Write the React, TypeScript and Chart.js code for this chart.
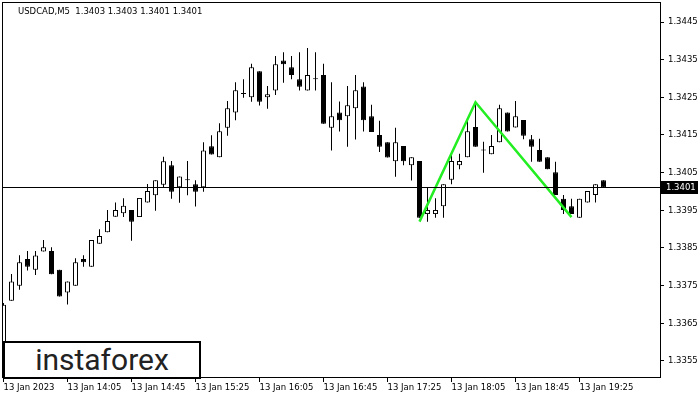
import React, { useEffect, useRef } from "react";
import { Chart, registerables } from "chart.js";

Chart.register(...registerables);

const chartTitle = "USDCAD,M5  1.3403 1.3403 1.3401 1.3401";
const logoText = "instaforex";

// M5 candles from 13:25 to 19:40, one entry per bar
const opens = [
  1.33513, 1.3371, 1.3375, 1.33821, 1.33792, 1.33841, 1.33842, 1.33792, 1.33732, 1.3375,
  1.33821, 1.338, 1.33861, 1.33892, 1.33933, 1.33942, 1.33951, 1.33932, 1.33971, 1.3399,
  1.34018, 1.3407, 1.34011, 1.3403, 1.34019, 1.34011, 1.3412, 1.34091, 1.34169, 1.3421,
  1.34259, 1.3425, 1.34319, 1.3425, 1.34268, 1.34348, 1.3433, 1.34298, 1.34268, 1.34298,
  1.34309, 1.34169, 1.3421, 1.342, 1.34221, 1.34279, 1.342, 1.3415, 1.34131, 1.3408,
  1.34121, 1.3407, 1.34081, 1.3394, 1.3394, 1.33961, 1.34031, 1.3407, 1.34091, 1.34171,
  1.34109, 1.34099, 1.34131, 1.3421, 1.3417, 1.3419, 1.34139, 1.3411, 1.34091, 1.34051,
  1.33981, 1.33961, 1.3393, 1.33971, 1.33991, 1.3403,
];
const highs = [
  1.33704, 1.33781, 1.33831, 1.33842, 1.33842, 1.33871, 1.33852, 1.33792, 1.33761, 1.33823,
  1.33831, 1.33871, 1.339, 1.33951, 1.33971, 1.33982, 1.33951, 1.33983, 1.3402, 1.3403,
  1.34092, 1.34081, 1.3404, 1.34081, 1.3403, 1.34131, 1.34149, 1.34181, 1.3424, 1.3429,
  1.34298, 1.34339, 1.34319, 1.3428, 1.3436, 1.3437, 1.3436, 1.3437, 1.34381, 1.3437,
  1.34339, 1.3429, 1.34239, 1.3428, 1.34309, 1.3429, 1.3423, 1.34188, 1.34131, 1.34169,
  1.34121, 1.34091, 1.34081, 1.34011, 1.33982, 1.34019, 1.341, 1.341, 1.3419, 1.34234,
  1.34132, 1.3415, 1.3423, 1.3421, 1.3424, 1.3419, 1.3415, 1.3414, 1.34091, 1.34079,
  1.33991, 1.33981, 1.33981, 1.34001, 1.34019, 1.3403,
];
const lows = [
  1.33513, 1.3371, 1.33739, 1.3379, 1.33778, 1.33841, 1.3378, 1.33721, 1.337, 1.3375,
  1.338, 1.338, 1.33861, 1.33892, 1.33933, 1.33932, 1.33869, 1.33932, 1.33971, 1.33949,
  1.34011, 1.33981, 1.3397, 1.3399, 1.3396, 1.33999, 1.34098, 1.34091, 1.34148, 1.34189,
  1.34249, 1.34238, 1.34228, 1.3422, 1.34256, 1.34289, 1.34298, 1.34268, 1.34268, 1.34268,
  1.3418, 1.34109, 1.34159, 1.34119, 1.34138, 1.34159, 1.34158, 1.34105, 1.3409, 1.34039,
  1.3407, 1.34029, 1.3393, 1.3392, 1.3393, 1.3393, 1.34019, 1.34059, 1.34091, 1.34119,
  1.3405, 1.34099, 1.34131, 1.34159, 1.3417, 1.34139, 1.34079, 1.34079, 1.34059, 1.33991,
  1.3394, 1.3394, 1.3393, 1.33971, 1.33971, 1.3401,
];
const closes = [
  1.33699, 1.33761, 1.33812, 1.338, 1.3383, 1.33852, 1.3378, 1.33721, 1.33761, 1.33812,
  1.33812, 1.33871, 1.33882, 1.33922, 1.33951, 1.33962, 1.3392, 1.33983, 1.34001, 1.3403,
  1.3408, 1.33999, 1.3404, 1.3403, 1.33999, 1.34109, 1.34098, 1.3416, 1.34221, 1.34269,
  1.34259, 1.3433, 1.34238, 1.34258, 1.34338, 1.34338, 1.34309, 1.34278, 1.34309, 1.34298,
  1.3418, 1.342, 1.34189, 1.34229, 1.34269, 1.34189, 1.34158, 1.34119, 1.3409, 1.34131,
  1.3408, 1.34091, 1.3393, 1.33951, 1.33951, 1.34019, 1.34081, 1.34081, 1.3416, 1.34119,
  1.34109, 1.34121, 1.34221, 1.34159, 1.342, 1.34148, 1.34119, 1.34079, 1.34059, 1.33991,
  1.33951, 1.3394, 1.33981, 1.34001, 1.34019, 1.3401,
];

const xTickIndex = [0, 8, 16, 24, 32, 40, 48, 56, 64, 72];
const xTickLabels = [
  "13 Jan 2023", "13 Jan 14:05", "13 Jan 14:45", "13 Jan 15:25", "13 Jan 16:05",
  "13 Jan 16:45", "13 Jan 17:25", "13 Jan 18:05", "13 Jan 18:45", "13 Jan 19:25",
];
const yTickValues = [1.3355, 1.3365, 1.3375, 1.3385, 1.3395, 1.3405, 1.3415, 1.3425, 1.3435, 1.3445];
const currentPrice = 1.3401;

// double-top style pattern drawn in green (bar index, price)
const patternIndex = [52, 59, 71];
const patternPrice = [1.3392, 1.34237, 1.33932];

const X_MIN = -0.1875;
const X_MAX = 82.0625;
const Y_MIN = 1.335075;
const Y_MAX = 1.345031;

const FONT = "DejaVu Sans";

export default function App() {
  const ref = useRef<HTMLCanvasElement>(null);

  useEffect(() => {
    document.body.style.margin = "0";
    const canvas = ref.current;
    if (!canvas) return;

    const idx = opens.map((_, i) => i);
    const bodies = idx.map((i) => ({
      x: i,
      y: [Math.min(opens[i], closes[i]), Math.max(opens[i], closes[i])],
    }));
    const wicks = idx.map((i) => ({ x: i, y: [lows[i], highs[i]] }));
    const bodyColors = idx.map((i) => (closes[i] >= opens[i] ? "#ffffff" : "#000000"));
    const pattern = patternIndex.map((x, k) => ({ x, y: patternPrice[k] }));

    const mtPlugin = {
      id: "mtDecor",
      afterDatasetsDraw(chart: any) {
        const { ctx, chartArea: a, scales } = chart;
        const y = scales.y.getPixelForValue(currentPrice);
        ctx.save();
        ctx.beginPath();
        ctx.rect(a.left, a.top, a.right - a.left, a.bottom - a.top);
        ctx.clip();
        ctx.strokeStyle = "#000";
        ctx.lineWidth = 1;
        ctx.beginPath();
        ctx.moveTo(a.left, Math.floor(y) + 0.5);
        ctx.lineTo(a.right, Math.floor(y) + 0.5);
        ctx.stroke();
        ctx.restore();
      },
      afterDraw(chart: any) {
        const { ctx, chartArea: a, scales } = chart;
        ctx.save();
        ctx.strokeStyle = "#000";
        ctx.lineWidth = 1;
        ctx.strokeRect(a.left + 0.5, a.top + 0.5, a.right - a.left, a.bottom - a.top);
        const y = Math.floor(scales.y.getPixelForValue(currentPrice));
        ctx.fillStyle = "#000";
        ctx.fillRect(a.right + 1, y - 6, 37, 13);
        ctx.fillStyle = "#fff";
        ctx.font = `8.5px '${FONT}'`;
        ctx.textAlign = "left";
        ctx.textBaseline = "middle";
        ctx.fillText(currentPrice.toFixed(4), a.right + 6, y + 1);
        ctx.restore();
      },
    };

    const chart = new Chart(canvas, {
      type: "bar",
      data: {
        datasets: [
          {
            type: "line",
            data: pattern,
            borderColor: "#22ee22",
            borderWidth: 2.5,
            pointRadius: 0,
            tension: 0,
            order: 1,
          } as any,
          {
            type: "bar",
            data: bodies as any,
            backgroundColor: bodyColors,
            borderColor: "#000000",
            borderWidth: 1,
            borderSkipped: false,
            barThickness: 5,
            minBarLength: 1,
            grouped: false,
            inflateAmount: 0,
            order: 2,
          } as any,
          {
            type: "bar",
            data: wicks as any,
            backgroundColor: "#000000",
            borderWidth: 0,
            barThickness: 1,
            grouped: false,
            inflateAmount: 0,
            order: 3,
          } as any,
        ],
      },
      options: {
        responsive: false,
        animation: false,
        events: [],
        layout: { padding: { left: 2, top: 2, right: 0, bottom: 0 } },
        plugins: {
          legend: { display: false },
          tooltip: { enabled: false },
          title: { display: false },
        },
        scales: {
          x: {
            type: "linear",
            min: X_MIN,
            max: X_MAX,
            offset: false,
            bounds: "data",
            border: { display: false },
            grid: {
              offset: false,
              drawOnChartArea: false,
              drawTicks: true,
              tickLength: 5,
              color: "#000",
            },
            afterBuildTicks: (s: any) => {
              s.ticks = xTickIndex.map((v) => ({ value: v }));
            },
            afterFit: (s: any) => {
              s.height = 23;
              s.paddingLeft = 0;
              s.paddingRight = 0;
            },
            ticks: {
              autoSkip: false,
              maxRotation: 0,
              minRotation: 0,
              align: "start",
              padding: 1,
              color: "#000",
              font: { family: FONT, size: 8.5 },
              callback: (_v: any, i: number) => xTickLabels[i],
            },
          },
          y: {
            type: "linear",
            position: "right",
            min: Y_MIN,
            max: Y_MAX,
            bounds: "data",
            border: { display: false },
            grid: {
              drawOnChartArea: false,
              drawTicks: true,
              tickLength: 4,
              color: "#000",
            },
            afterBuildTicks: (s: any) => {
              s.ticks = yTickValues.map((v) => ({ value: v }));
            },
            afterFit: (s: any) => {
              s.width = 40;
              s.paddingTop = 0;
              s.paddingBottom = 0;
            },
            ticks: {
              autoSkip: false,
              padding: 4,
              color: "#000",
              font: { family: FONT, size: 8.5 },
              callback: (v: any) => Number(v).toFixed(4),
            },
          },
        },
      } as any,
      plugins: [mtPlugin],
    });

    return () => chart.destroy();
  }, []);

  return (
    <div style={{ position: "relative", width: 700, height: 400, background: "#fff" }}>
      <canvas ref={ref} width={700} height={400} style={{ display: "block" }} />
      <div
        style={{
          position: "absolute",
          left: 18,
          top: 6,
          font: `8.5px '${FONT}'`,
          lineHeight: "10px",
          color: "#000",
          whiteSpace: "pre",
        }}
      >
        {chartTitle}
      </div>
      <div
        style={{
          position: "absolute",
          left: 3,
          top: 341,
          width: 198,
          height: 38,
          boxSizing: "border-box",
          border: "2px solid #000",
          background: "#fff",
          color: "#222",
          fontFamily: "Roboto",
          fontSize: 30,
          lineHeight: "34px",
          textAlign: "center",
        }}
      >
        {logoText}
      </div>
    </div>
  );
}
